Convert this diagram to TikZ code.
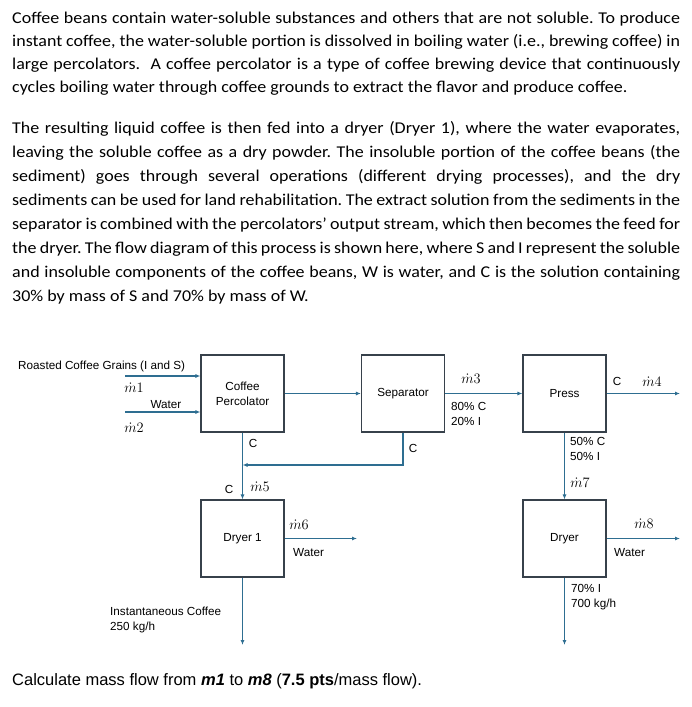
\documentclass[tikz,border=0pt]{standalone}
\usepackage{fontspec}
\setmainfont{Carlito}[FakeStretch=1.09]
\newfontfamily\diag{Liberation Sans}
\usetikzlibrary{arrows.meta}
\definecolor{flowc}{RGB}{46,110,145}
\definecolor{boxc}{RGB}{55,65,75}
\frenchspacing
\begin{document}
\begin{tikzpicture}[x=1pt,y=-1pt,
 unit/.style={draw=boxc, line width=1.1pt, minimum width=83pt, minimum height=77pt, inner sep=0pt, align=center, font=\diag\fontsize{11.7}{15}\selectfont},
 flow/.style={draw=flowc, line width=1.1pt, -{Latex[length=5pt,width=4pt]}},
 lbl/.style={font=\diag\fontsize{11.7}{13}\selectfont, inner sep=0pt},
 mm/.style={font=\fontsize{15}{15}\selectfont, inner sep=0pt},
 para/.style={font=\fontsize{16.5}{16.5}\selectfont, anchor=base west, inner sep=0pt}]
\useasboundingbox (0,0) rectangle (692,707);
% text paragraphs
\node[para] (p1a) at (12,23) {\makebox[668pt][s]{Coffee beans contain water-soluble substances and others that are not soluble. To produce}};
\node[para] (p1b) at (12,46) {\makebox[668pt][s]{instant coffee, the water-soluble portion is dissolved in boiling water (i.e., brewing coffee) in}};
\node[para] (p1c) at (12,69) {\makebox[668pt][s]{large percolators.\ \ A coffee percolator is a type of coffee brewing device that continuously}};
\node[para] (p1d) at (12,92) {cycles boiling water through coffee grounds to extract the flavor and produce coffee.};
\node[para] (p2a) at (12,133) {\makebox[668pt][s]{The resulting liquid coffee is then fed into a dryer (Dryer 1), where the water evaporates,}};
\node[para] (p2b) at (12,157) {\makebox[668pt][s]{leaving the soluble coffee as a dry powder. The insoluble portion of the coffee beans (the}};
\node[para] (p2c) at (12,181) {\makebox[668pt][s]{sediment) goes through several operations (different drying processes), and the dry}};
\node[para] (p2d) at (12,205) {\makebox[668pt][s]{sediments can be used for land rehabilitation. The extract solution from the sediments in the}};
\node[para] (p2e) at (12,229) {\makebox[668pt][s]{separator is combined with the percolators' output stream, which then becomes the feed for}};
\node[para] (p2f) at (12,253) {\makebox[668pt][s]{the dryer. The flow diagram of this process is shown here, where S and I represent the soluble}};
\node[para] (p2g) at (12,277) {\makebox[668pt][s]{and insoluble components of the coffee beans, W is water, and C is the solution containing}};
\node[para] (p2h) at (12,301) {30\% by mass of S and 70\% by mass of W.};
% units
\node[unit] (perc) at (242.5,393.5) {Coffee\\Percolator};
\node[unit] (sep) at (403,393.5) {Separator};
\node[unit] (press) at (564.5,393.5) {Press};
\node[unit] (dry1) at (242.5,538.5) {Dryer 1};
\node[unit] (dry2) at (564.5,538.5) {Dryer};
% free ends
\coordinate (in1) at (125,376);
\coordinate (in2) at (125,412);
\coordinate (out4) at (680,393.5);
\coordinate (out6) at (357,538.5);
\coordinate (outc) at (242.5,645);
\coordinate (out8) at (680,538.5);
\coordinate (out9) at (564.5,645);
\coordinate (join) at (242.5,465);
% flows
\draw[flow] (in1) -- (in1 -| perc.west);
\draw[flow] (in2) -- (in2 -| perc.west);
\draw[flow] (perc.east) -- (sep.west);
\draw[flow] (sep.east) -- (press.west);
\draw[flow] (press.east) -- (out4);
\draw[flow] (perc.south) -- (dry1.north);
\draw[flow] (sep.south) |- (join);
\draw[flow] (dry1.east) -- (out6);
\draw[flow] (dry1.south) -- (outc);
\draw[flow] (press.south) -- (dry2.north);
\draw[flow] (dry2.east) -- (out8);
\draw[flow] (dry2.south) -- (out9);
% labels
\node[lbl, anchor=west] (lroast) at (18,366) {Roasted Coffee Grains (I and S)};
\node[mm] (m1) at (134,388) {$\dot{m}1$};
\node[lbl] (lwater) at (166,405) {Water};
\node[mm] (m2) at (134,428) {$\dot{m}2$};
\node[lbl] (lc1) at (253,443) {C};
\node[lbl] (lc2) at (229,489) {C};
\node[mm] (m5) at (260,487) {$\dot{m}5$};
\node[lbl] (lc3) at (413,448) {C};
\node[mm] (m3) at (471,379) {$\dot{m}3$};
\node[lbl, anchor=west] (l80) at (451,406) {80\% C};
\node[lbl, anchor=west] (l20) at (451,421) {20\% I};
\node[lbl] (lc4) at (617,381) {C};
\node[mm] (m4) at (652,382) {$\dot{m}4$};
\node[lbl, anchor=west] (l50c) at (570,441) {50\% C};
\node[lbl, anchor=west] (l50i) at (570,456) {50\% I};
\node[mm] (m7) at (580,483) {$\dot{m}7$};
\node[mm] (m6) at (299,525) {$\dot{m}6$};
\node[lbl, anchor=west] (lw6) at (293,553) {Water};
\node[mm] (m8) at (644,524) {$\dot{m}8$};
\node[lbl, anchor=west] (lw8) at (614,553) {Water};
\node[lbl, anchor=west] (linst) at (110,611) {Instantaneous Coffee};
\node[lbl, anchor=west] (l250) at (110,627) {250 kg/h};
\node[lbl, anchor=west] (l70) at (571,588) {70\% I};
\node[lbl, anchor=west] (l700) at (571,604) {700 kg/h};
% question
\node[para, font=\diag\fontsize{16.5}{16.5}\selectfont] (q) at (12,685) {Calculate mass flow from \textbf{\textit{m1}} to \textbf{\textit{m8}} (\textbf{7.5 pts}/mass flow).};
\end{tikzpicture}
\end{document}
